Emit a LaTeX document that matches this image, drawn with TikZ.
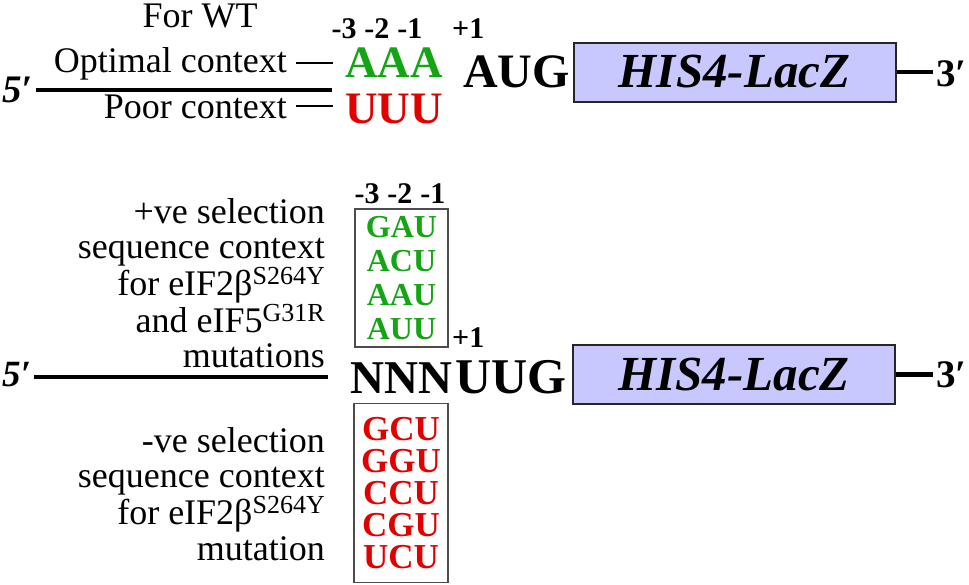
\documentclass[tikz,border=0pt]{standalone}
\usepackage{fontspec}
\setmainfont{Liberation Serif}
\definecolor{seqgreen}{RGB}{20,165,20}
\definecolor{seqred}{RGB}{225,0,0}
\definecolor{genefill}{RGB}{200,200,255}
\newcommand{\fsz}[2]{\fontsize{#1}{#2}\selectfont}
\newcommand{\mutsup}[1]{\raisebox{11pt}{\fsz{26}{26}#1}}
\tikzset{
    lbl/.style={inner sep=0, font=\fsz{36}{35.5}},
    nuc/.style={inner sep=0, font=\bfseries\fsz{45}{45}},
    posn/.style={inner sep=0, font=\bfseries\fsz{30}{30}},
    endlbl/.style={inner sep=0, font=\bfseries\fsz{39}{39}},
    gene/.style={draw=black!85, line width=2pt, fill=genefill, inner sep=0,
        minimum width=322, minimum height=59, font=\bfseries\itshape\fsz{49}{49}},
    strand/.style={line width=4.5pt},
    leader/.style={line width=1.8pt},
    seqbox/.style={draw=black!70, line width=1.3pt, inner sep=0, align=center}
}
\begin{document}
\begin{tikzpicture}[x=1pt, y=-1pt]
    \useasboundingbox (0,0) rectangle (969,584);

    % WT construct
    \node[lbl, anchor=base] (wt) at (200,27) {For WT};
    \node[lbl, anchor=base east] (opt) at (287,72) {Optimal context};
    \node[lbl, anchor=base east] (poor) at (287,118) {Poor context};
    \node[nuc, text=seqgreen, anchor=base west] (aaa) at (345,77) {AAA};
    \node[nuc, text=seqred, anchor=base west] (uuu) at (345,123) {UUU};
    \node[posn, anchor=base] (pos1) at (377,38) {-3\hspace{8pt}-2\hspace{8pt}-1};
    \node[posn, anchor=base west] (plus1) at (452,38) {+1};
    \node[nuc, font=\bfseries\fsz{48}{48}, anchor=base west] (aug) at (463,87) {AUG};
    \node[gene] (gene1) at (734.5,72) {HIS4-LacZ};
    \node[endlbl, font=\bfseries\itshape\fsz{39}{39}, anchor=base west] (five1) at (2,102) {5′};
    \node[endlbl, anchor=base west] (three1) at (936,86) {3′};

    % Strand and leaders
    \coordinate (cut1) at (332,90);
    \draw[strand, shorten <=3pt] (five1.east |- cut1) -- (cut1);
    \draw[strand, shorten >=3pt] (gene1.east) -- (gene1.east -| three1.west);
    \draw[leader] ([xshift=9pt]opt.east) -- ++(37,0);
    \draw[leader] ([xshift=9pt]poor.east) -- ++(37,0);

    % Selection construct
    \node[lbl, anchor=north east, align=right] (posctx) at (325,198)
        {+ve selection\\sequence context\\for eIF2β\mutsup{S264Y}\\and eIF5\mutsup{G31R}\\mutations};
    \node[posn, anchor=base] (pos2) at (400,203) {-3\hspace{8pt}-2\hspace{8pt}-1};
    \node[seqbox, text=seqgreen, minimum width=93, minimum height=138,
        font=\bfseries\fsz{32}{34}] (posbox) at (401.5,278) {GAU\\ACU\\AAU\\AUU};
    \node[posn, anchor=base west] (plus2) at (452,347) {+1};
    \node[nuc, font=\bfseries\fsz{47}{47}, anchor=base west] (nnn) at (350,393) {NNN};
    \node[nuc, font=\bfseries\fsz{50}{50}, anchor=base west] (uug) at (455,393) {UUG};
    \node[gene] (gene2) at (734,374.5) {HIS4-LacZ};
    \node[endlbl, font=\bfseries\itshape\fsz{37}{37}, anchor=base west] (five2) at (2,386) {5′};
    \node[endlbl, anchor=base west] (three2) at (936,387) {3′};
    \coordinate (cut2) at (328,377);
    \draw[strand, shorten <=3pt] (five2.east |- cut2) -- (cut2);
    \draw[strand, shorten >=3pt] (gene2.east) -- (gene2.east -| three2.west);
    \node[seqbox, text=seqred, minimum width=94, minimum height=179,
        font=\bfseries\fsz{35}{32}] (negbox) at (401,493) {GCU\\GGU\\CCU\\CGU\\UCU};
    \node[lbl, anchor=north east, align=right] (negctx) at (325,427)
        {-ve selection\\sequence context\\for eIF2β\mutsup{S264Y}\\mutation};
\end{tikzpicture}
\end{document}
